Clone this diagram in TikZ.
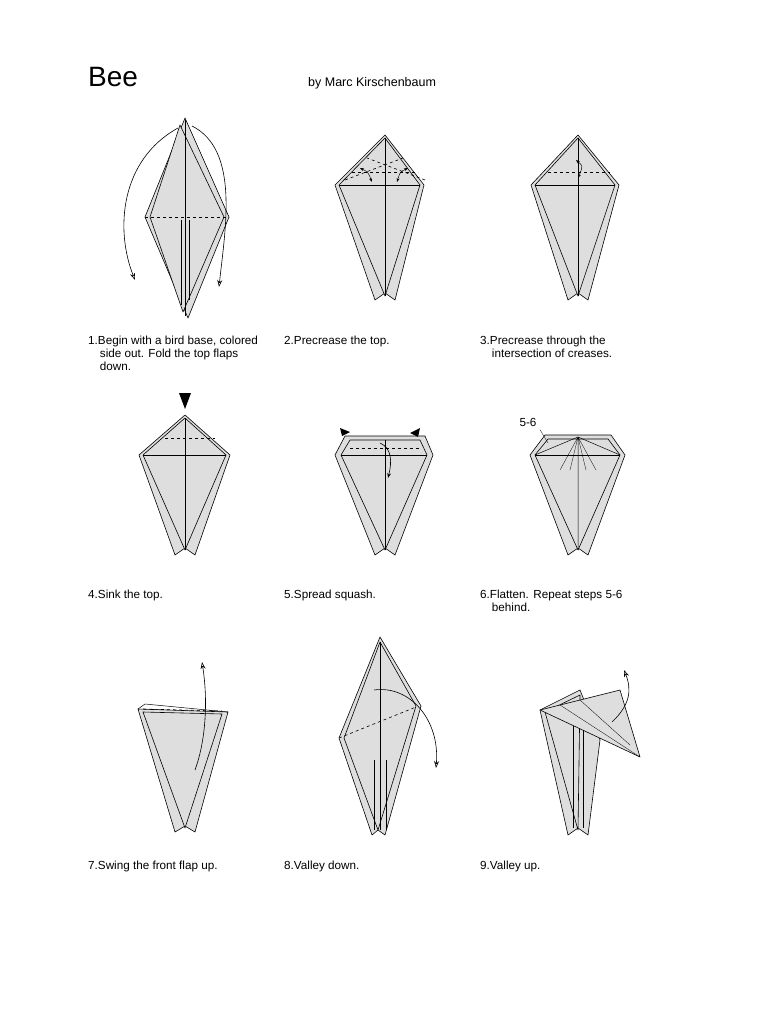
\documentclass[tikz,border=0pt]{standalone}
\usepackage{fontspec}
\setmainfont{Liberation Sans}
\usetikzlibrary{arrows.meta}
\begin{document}
\begin{tikzpicture}[x=1pt,y=-1pt,
  paper/.style={draw=black,fill=black!13,line width=0.6pt,line join=round},
  crease/.style={draw=black,line width=0.5pt},
  valley/.style={draw=black,dashed,line width=0.6pt},
  arr/.style={draw=black,line width=0.6pt,-{Stealth[open,length=7pt,width=5pt]}},
  captext/.style={anchor=north west,align=left,font=\fontsize{11.7}{13}\selectfont,inner sep=0pt},
  sink/.style={fill=black}]
\useasboundingbox (0,0) rectangle (768,1024);
\node[anchor=west,font=\fontsize{28}{30}\selectfont,inner sep=0pt] (title) at (88,77) {Bee};
\node[anchor=west,font=\fontsize{12.5}{14}\selectfont,inner sep=0pt] (by) at (308,83) {by Marc Kirschenbaum};
% Fig 1
\draw[paper] (185,118) -- (229,217) -- (188,318) -- (145,217) -- cycle;
\draw[paper] (180,125) -- (224,217) -- (183,312) -- (150,217) -- cycle;
\draw[crease] (185,120) -- (185,316) (189,220)--(189,300) (181,220)--(181,305);
\draw[valley] (145,217) -- (229,217);
\draw[arr] (178,128) .. controls (120,160) and (115,230) .. (135,280);
\draw[arr] (192,126) .. controls (240,150) and (225,230) .. (219,287);
% Fig 2
\draw[paper] (385,135) -- (424,185) -- (395,300) -- (385,293) -- (375,300) -- (335,185) -- cycle;
\draw[paper] (385,138) -- (420,185) -- (385,296) -- (339,185) -- cycle;
\draw[crease] (339,185) -- (420,185) (385,138) -- (385,296);
\draw[valley] (345,180) -- (403,158) (425,180) -- (367,158);
\draw[valley] (352,172)--(418,172);
\draw[line width=0.5pt,{Stealth[length=4pt]}-{Stealth[length=4pt]}] (360,168) .. controls (368,172) .. (372,182);
\draw[line width=0.5pt,{Stealth[length=4pt]}-{Stealth[length=4pt]}] (408,168) .. controls (400,172) .. (397,182);
% Fig 3
\draw[paper] (578,135) -- (619,185) -- (588,300) -- (578,293) -- (568,300) -- (531,185) -- cycle;
\draw[paper] (578,138) -- (615,185) -- (578,296) -- (535,185) -- cycle;
\draw[crease] (535,185) -- (615,185) (578,138) -- (578,296);
\draw[valley] (548,172) -- (610,172);
\draw[line width=0.5pt,{Stealth[length=4pt]}-{Stealth[length=4pt]}] (576,160) .. controls (583,166) .. (578,178);
% Fig 4
\draw[paper] (185,415) -- (230,455) -- (195,555) -- (185,548) -- (175,555) -- (139,455) -- cycle;
\draw[paper] (185,418) -- (226,455) -- (185,550) -- (143,455) -- cycle;
\draw[crease] (143,455) -- (226,455) (185,418) -- (185,550);
\draw[valley] (165,438) -- (215,438);
\fill[sink] (179,393) -- (191,393) -- (185,409) -- cycle;
% Fig 5
\draw[paper] (345,436) -- (425,436) -- (433,455) -- (395,555) -- (385,548) -- (375,555) -- (335,455) -- cycle;
\draw[paper] (350,440) -- (420,440) -- (427,455) -- (385,550) -- (341,455) -- cycle;
\draw[crease] (341,455) -- (427,455) (385,440) -- (385,550);
\draw[valley] (350,448) -- (420,448);
\fill[sink] (340,428) -- (350,432) -- (342,436) -- cycle;
\fill[sink] (420,428) -- (418,437) -- (410,433) -- cycle;
\draw[line width=0.6pt,-{Stealth[length=5pt]}] (380,443) .. controls (392,448) and (392,462) .. (388,478);
% Fig 6
\draw[paper] (545,435) -- (611,435) -- (625,455) -- (588,555) -- (578,548) -- (568,555) -- (530,455) -- cycle;
\draw[paper] (548,439) -- (608,439) -- (620,455) -- (578,550) -- (535,455) -- cycle;
\draw[crease] (535,455) -- (578,437) -- (620,455) (578,437) -- (578,550);
\draw[crease,line width=0.3pt] (578,437) -- (560,470) (578,437) -- (596,470) (578,437) -- (570,470) (578,437) -- (586,470);
\draw[crease] (535,455) -- (620,455);
\node[font=\fontsize{11.7}{13}\selectfont] (lab56) at (528,422) {5-6};
\draw[crease,line width=0.3pt] (lab56.south east) -- (548,443);
% Fig 7
\draw[paper] (138,709) -- (228,712) -- (195,832) -- (185,826) -- (175,832) -- cycle;
\draw[paper] (143,712) -- (222,714) -- (185,828) -- cycle;
\draw[crease] (138,709) -- (145,704) -- (228,712);
\draw[valley] (143,709) -- (222,711);
\draw[arr] (195,770) .. controls (206,740) and (208,700) .. (202,662);
% Fig 8
\draw[paper] (380,637) -- (421,706) -- (385,835) -- (378,830) -- (372,835) -- (339,738) -- cycle;
\draw[paper] (380,642) -- (416,706) -- (378,830) -- (344,738) -- cycle;
\draw[crease] (380,642) -- (380,830) (386,760)--(386,830) (374,760)--(374,830);
\draw[valley] (339,738) -- (416,707);
\draw[arr] (374,690) .. controls (410,685) and (440,720) .. (436,768);
% Fig 9
\draw[paper] (540,710) -- (580,690) -- (600,740) -- (588,835) -- (578,828) -- (568,835) -- cycle;
\draw[paper] (545,712) -- (580,695) -- (578,830) -- cycle;
\draw[crease] (573,720)--(573,828) (583,720)--(583,828);
\draw[paper] (540,710) -- (620,690) -- (640,757) -- cycle;
\draw[crease,line width=0.3pt] (580,700) -- (630,745) (560,705) -- (640,757);
\draw[arr] (612,722) .. controls (630,705) and (632,690) .. (624,670);
% captions
\node[captext] (c1) at (88,336) {1.Begin with a bird base, colored\\\quad side out. Fold the top flaps\\\quad down.};
\node[captext] (c2) at (284,336) {2.Precrease the top.};
\node[captext] (c3) at (480,336) {3.Precrease through the\\\quad intersection of creases.};
\node[captext] (c4) at (88,590) {4.Sink the top.};
\node[captext] (c5) at (284,590) {5.Spread squash.};
\node[captext] (c6) at (480,590) {6.Flatten. Repeat steps 5-6\\\quad behind.};
\node[captext] (c7) at (88,861) {7.Swing the front flap up.};
\node[captext] (c8) at (284,861) {8.Valley down.};
\node[captext] (c9) at (480,861) {9.Valley up.};
\end{tikzpicture}
\end{document}
